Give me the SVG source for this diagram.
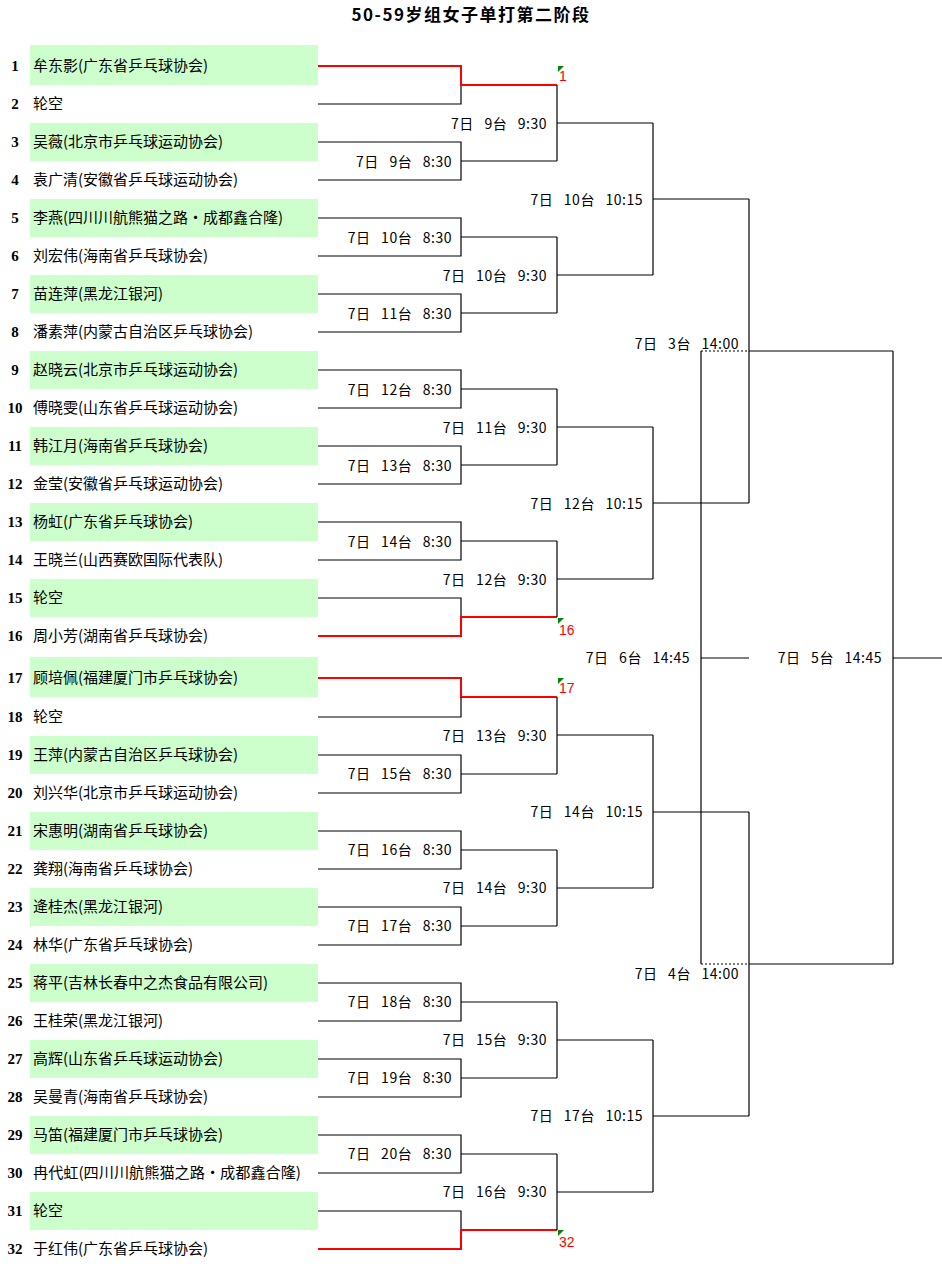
<svg xmlns="http://www.w3.org/2000/svg" width="942" height="1270" viewBox="0 0 942 1270">
<style>
.bg{fill:#fff}
.box{fill:#CCFFCC}
.num{font-family:"Liberation Serif",serif;font-weight:bold;font-size:15px;text-anchor:middle;fill:#000}
.nm{font-family:"Noto Sans CJK SC",sans-serif;font-size:15px;fill:#000}
.t{font-family:"Noto Sans CJK SC",sans-serif;font-size:14px;fill:#000;text-anchor:end;word-spacing:7px;letter-spacing:0.5px}
.ttl{font-family:"Noto Sans CJK SC",sans-serif;font-size:17px;font-weight:bold;text-anchor:middle;letter-spacing:1.5px}
.k{fill:none;stroke:#000;stroke-width:1.2}
.r{fill:none;stroke:#f00;stroke-width:2}
.d{fill:none;stroke:#000;stroke-width:1.2;stroke-dasharray:2,2}
.mk{fill:#f00;font-family:"Liberation Sans",sans-serif;font-size:14px}
.tri{fill:#080}
</style>
<rect class="bg" width="942" height="1270"/>
<text class="ttl" x="471" y="21">50-59岁组女子单打第二阶段</text>
<g id="players">
<g id="p1"><rect class="box" x="30" y="45" width="288" height="40"/><text class="num" x="15" y="71">1</text><text class="nm" x="33" y="71">牟东影(广东省乒乓球协会)</text></g>
<g id="p2"><text class="num" x="15" y="109">2</text><text class="nm" x="33" y="109">轮空</text></g>
<g id="p3"><rect class="box" x="30" y="123" width="288" height="38"/><text class="num" x="15" y="147">3</text><text class="nm" x="33" y="147">吴薇(北京市乒乓球运动协会)</text></g>
<g id="p4"><text class="num" x="15" y="185">4</text><text class="nm" x="33" y="185">袁广清(安徽省乒乓球运动协会)</text></g>
<g id="p5"><rect class="box" x="30" y="199" width="288" height="38"/><text class="num" x="15" y="223">5</text><text class="nm" x="33" y="223">李燕(四川川航熊猫之路·成都鑫合隆)</text></g>
<g id="p6"><text class="num" x="15" y="261">6</text><text class="nm" x="33" y="261">刘宏伟(海南省乒乓球协会)</text></g>
<g id="p7"><rect class="box" x="30" y="275" width="288" height="38"/><text class="num" x="15" y="299">7</text><text class="nm" x="33" y="299">苗连萍(黑龙江银河)</text></g>
<g id="p8"><text class="num" x="15" y="337">8</text><text class="nm" x="33" y="337">潘素萍(内蒙古自治区乒乓球协会)</text></g>
<g id="p9"><rect class="box" x="30" y="351" width="288" height="38"/><text class="num" x="15" y="375">9</text><text class="nm" x="33" y="375">赵晓云(北京市乒乓球运动协会)</text></g>
<g id="p10"><text class="num" x="15" y="413">10</text><text class="nm" x="33" y="413">傅晓雯(山东省乒乓球运动协会)</text></g>
<g id="p11"><rect class="box" x="30" y="427" width="288" height="38"/><text class="num" x="15" y="451">11</text><text class="nm" x="33" y="451">韩江月(海南省乒乓球协会)</text></g>
<g id="p12"><text class="num" x="15" y="489">12</text><text class="nm" x="33" y="489">金莹(安徽省乒乓球运动协会)</text></g>
<g id="p13"><rect class="box" x="30" y="503" width="288" height="38"/><text class="num" x="15" y="527">13</text><text class="nm" x="33" y="527">杨虹(广东省乒乓球协会)</text></g>
<g id="p14"><text class="num" x="15" y="565">14</text><text class="nm" x="33" y="565">王晓兰(山西赛欧国际代表队)</text></g>
<g id="p15"><rect class="box" x="30" y="579" width="288" height="38"/><text class="num" x="15" y="603">15</text><text class="nm" x="33" y="603">轮空</text></g>
<g id="p16"><text class="num" x="15" y="641">16</text><text class="nm" x="33" y="641">周小芳(湖南省乒乓球协会)</text></g>
<g id="p17"><rect class="box" x="30" y="657" width="288" height="40"/><text class="num" x="15" y="683">17</text><text class="nm" x="33" y="683">顾培佩(福建厦门市乒乓球协会)</text></g>
<g id="p18"><text class="num" x="15" y="722">18</text><text class="nm" x="33" y="722">轮空</text></g>
<g id="p19"><rect class="box" x="30" y="736" width="288" height="38"/><text class="num" x="15" y="760">19</text><text class="nm" x="33" y="760">王萍(内蒙古自治区乒乓球协会)</text></g>
<g id="p20"><text class="num" x="15" y="798">20</text><text class="nm" x="33" y="798">刘兴华(北京市乒乓球运动协会)</text></g>
<g id="p21"><rect class="box" x="30" y="812" width="288" height="38"/><text class="num" x="15" y="836">21</text><text class="nm" x="33" y="836">宋惠明(湖南省乒乓球协会)</text></g>
<g id="p22"><text class="num" x="15" y="874">22</text><text class="nm" x="33" y="874">龚翔(海南省乒乓球协会)</text></g>
<g id="p23"><rect class="box" x="30" y="888" width="288" height="38"/><text class="num" x="15" y="912">23</text><text class="nm" x="33" y="912">逄桂杰(黑龙江银河)</text></g>
<g id="p24"><text class="num" x="15" y="950">24</text><text class="nm" x="33" y="950">林华(广东省乒乓球协会)</text></g>
<g id="p25"><rect class="box" x="30" y="964" width="288" height="38"/><text class="num" x="15" y="988">25</text><text class="nm" x="33" y="988">蒋平(吉林长春中之杰食品有限公司)</text></g>
<g id="p26"><text class="num" x="15" y="1026">26</text><text class="nm" x="33" y="1026">王桂荣(黑龙江银河)</text></g>
<g id="p27"><rect class="box" x="30" y="1040" width="288" height="38"/><text class="num" x="15" y="1064">27</text><text class="nm" x="33" y="1064">高辉(山东省乒乓球运动协会)</text></g>
<g id="p28"><text class="num" x="15" y="1102">28</text><text class="nm" x="33" y="1102">吴曼青(海南省乒乓球协会)</text></g>
<g id="p29"><rect class="box" x="30" y="1116" width="288" height="38"/><text class="num" x="15" y="1140">29</text><text class="nm" x="33" y="1140">马笛(福建厦门市乒乓球协会)</text></g>
<g id="p30"><text class="num" x="15" y="1178">30</text><text class="nm" x="33" y="1178" textLength="268" lengthAdjust="spacingAndGlyphs">冉代虹(四川川航熊猫之路·成都鑫合隆)</text></g>
<g id="p31"><rect class="box" x="30" y="1192" width="288" height="38"/><text class="num" x="15" y="1216">31</text><text class="nm" x="33" y="1216">轮空</text></g>
<g id="p32"><text class="num" x="15" y="1254">32</text><text class="nm" x="33" y="1254">于红伟(广东省乒乓球协会)</text></g>
</g>
<g id="connectors">
<path class="k" d="M318,104H461V85"/>
<path class="r" d="M318,66H461V85H557"/>
<path class="k" d="M318,142H461V180H318M461,161H557"/>
<path class="k" d="M318,218H461V256H318M461,237H557"/>
<path class="k" d="M318,294H461V332H318M461,313H557"/>
<path class="k" d="M318,370H461V408H318M461,389H557"/>
<path class="k" d="M318,446H461V484H318M461,465H557"/>
<path class="k" d="M318,522H461V560H318M461,541H557"/>
<path class="k" d="M318,598H461V617"/>
<path class="r" d="M318,636H461V617H557"/>
<path class="r" d="M318,678H461V697H557"/>
<path class="k" d="M318,717H461V697"/>
<path class="k" d="M318,755H461V793H318M461,774H557"/>
<path class="k" d="M318,831H461V869H318M461,850H557"/>
<path class="k" d="M318,907H461V945H318M461,926H557"/>
<path class="k" d="M318,983H461V1021H318M461,1002H557"/>
<path class="k" d="M318,1059H461V1097H318M461,1078H557"/>
<path class="k" d="M318,1135H461V1173H318M461,1154H557"/>
<path class="k" d="M318,1211H461V1230"/>
<path class="r" d="M318,1249H461V1230H557"/>
<path class="k" d="M557,85V161M557,123H653M557,237V313M557,275H653M557,389V465M557,427H653M557,541V617M557,579H653"/>
<path class="k" d="M557,697V774M557,735H653M557,850V926M557,888H653M557,1002V1078M557,1040H653M557,1154V1230M557,1192H653"/>
<path class="k" d="M653,123V275M653,199H749M653,427V579M653,503H749M653,735V888M653,812H749M653,1040V1192M653,1116H749"/>
<path class="k" d="M749,199V503M749,812V1116M749,351H893M749,964H893"/>
<path class="d" d="M701,351H749M701,964H749"/>
<path class="k" d="M701,351V964M701,658H749M893,351V964M893,658H942"/>
</g>
<g id="markers">
<polygon class="tri" points="558,66 564,66 558,72"/><text class="mk" x="559" y="81">1</text>
<polygon class="tri" points="558,618 564,618 558,624"/><text class="mk" x="559" y="635">16</text>
<polygon class="tri" points="558,678 564,678 558,684"/><text class="mk" x="559" y="693">17</text>
<polygon class="tri" points="558,1230 564,1230 558,1236"/><text class="mk" x="559" y="1247">32</text>
</g>
<g id="labels" xml:space="preserve">
<text class="t" x="452" y="167">7日 9台 8:30</text>
<text class="t" x="452" y="243">7日 10台 8:30</text>
<text class="t" x="452" y="319">7日 11台 8:30</text>
<text class="t" x="452" y="395">7日 12台 8:30</text>
<text class="t" x="452" y="471">7日 13台 8:30</text>
<text class="t" x="452" y="547">7日 14台 8:30</text>
<text class="t" x="452" y="779">7日 15台 8:30</text>
<text class="t" x="452" y="855">7日 16台 8:30</text>
<text class="t" x="452" y="931">7日 17台 8:30</text>
<text class="t" x="452" y="1007">7日 18台 8:30</text>
<text class="t" x="452" y="1083">7日 19台 8:30</text>
<text class="t" x="452" y="1159">7日 20台 8:30</text>
<text class="t" x="547" y="129">7日 9台 9:30</text>
<text class="t" x="547" y="281">7日 10台 9:30</text>
<text class="t" x="547" y="433">7日 11台 9:30</text>
<text class="t" x="547" y="585">7日 12台 9:30</text>
<text class="t" x="547" y="741">7日 13台 9:30</text>
<text class="t" x="547" y="893">7日 14台 9:30</text>
<text class="t" x="547" y="1045">7日 15台 9:30</text>
<text class="t" x="547" y="1197">7日 16台 9:30</text>
<text class="t" x="643" y="205">7日 10台 10:15</text>
<text class="t" x="643" y="509">7日 12台 10:15</text>
<text class="t" x="643" y="817">7日 14台 10:15</text>
<text class="t" x="643" y="1121">7日 17台 10:15</text>
<text class="t" x="739" y="349">7日 3台 14:00</text>
<text class="t" x="739" y="979">7日 4台 14:00</text>
<text class="t" x="690" y="663">7日 6台 14:45</text>
<text class="t" x="882" y="663">7日 5台 14:45</text>
</g>
</svg>
